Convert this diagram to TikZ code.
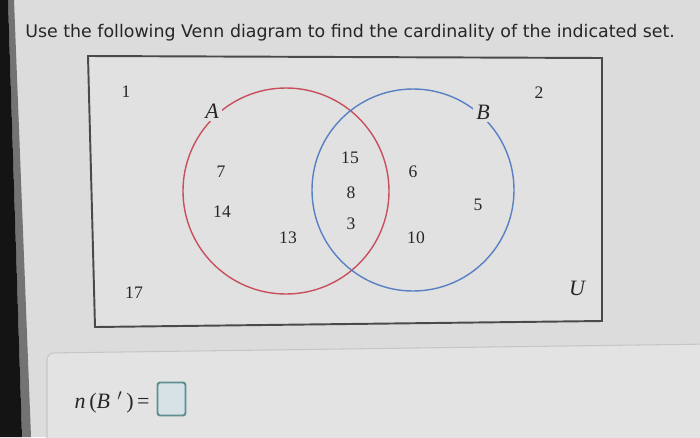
\documentclass[tikz,border=0pt]{standalone}
\usepackage{fontspec}
\setmainfont{Liberation Serif}
\newfontfamily\titlefont{DejaVu Sans}
\usetikzlibrary{positioning}

\definecolor{bggray}{HTML}{DCDCDC}
\definecolor{boxgray}{HTML}{E1E1E1}
\definecolor{setred}{HTML}{C8505C}
\definecolor{setblue}{HTML}{5A80C4}
\definecolor{framegray}{HTML}{4A4A4A}
\definecolor{panelgray}{HTML}{E3E3E3}
\definecolor{panelline}{HTML}{C6C6C6}
\definecolor{ansline}{HTML}{5E8E90}
\definecolor{ansfill}{HTML}{D6E2E6}
\definecolor{inkgray}{HTML}{262626}

\begin{document}
\begin{tikzpicture}[x=0.02cm, y=-0.02cm,
    num/.style = {font=\fontsize{10}{12}\selectfont, text=inkgray, inner sep=0pt},
    setname/.style = {font=\fontsize{12.5}{14}\selectfont\itshape, text=inkgray, inner sep=1.6pt, fill=boxgray},
    ansbox/.style = {draw=ansline, fill=ansfill, line width=1.1pt, rounded corners=1.5pt, minimum width=0.56cm, minimum height=0.66cm, inner sep=0pt}]

      \useasboundingbox (0,0) rectangle (700,437);
      \clip (0,0) rectangle (700,437);

      % Screen
      \fill[bggray] (0,0) rectangle (700,437);
      \fill[black!55] (8,0) -- (14,0) -- (31,437) -- (22,437) -- cycle;
      \fill[black!92] (0,0) -- (8,0) -- (22,437) -- (0,437) -- cycle;

      \node[anchor=base west, inner sep=0pt, text=inkgray, font=\titlefont\fontsize{9.9}{12}\selectfont] (title) at (25,37)
        {Use the following Venn diagram to find the cardinality of the indicated set.};

      % Universe
      \coordinate (ul) at (88,56);
      \coordinate (ur) at (602,58);
      \coordinate (lr) at (602,321);
      \coordinate (ll) at (95,327);
      \filldraw[fill=boxgray, draw=framegray, line width=1.1pt] (ul) -- (ur) -- (lr) -- (ll) -- cycle;

      % Sets
      \draw[setred, line width=0.8pt] (286,191) circle (103);
      \draw[setblue, line width=0.8pt] (413,190) circle (101);
      \node[setname] (A) at (212,111) {A};
      \node[setname] (B) at (483,112) {B};
      \node[setname, fill=none] (U) at (577,288) {U};

      % Counts
      \node[num] (c1) at (126,92) {1};
      \node[num] (c2) at (539,93) {2};
      \node[num] (c7) at (221,172) {7};
      \node[num] (c14) at (222,212) {14};
      \node[num] (c13) at (288,238) {13};
      \node[num] (c15) at (350,158) {15};
      \node[num] (c8) at (351,193) {8};
      \node[num] (c3) at (351,224) {3};
      \node[num] (c6) at (413,172) {6};
      \node[num] (c5) at (478,205) {5};
      \node[num] (c10) at (416,238) {10};
      \node[num] (c17) at (134,293) {17};

      % Answer panel
      \filldraw[fill=panelgray, draw=panelline, line width=0.6pt, rounded corners=4pt]
        (47,460) -- (47,353) -- (712,344) -- (712,460);
      \node[anchor=base east, inner sep=0pt, text=inkgray, font=\fontsize{12.5}{14}\selectfont] (expr) at (150,408)
        {\textit{n}\,(\textit{B}\,\,$'$\,)\,=};
      \node[ansbox] (answer) at (171.5,399) {};

    \end{tikzpicture}
\end{document}
